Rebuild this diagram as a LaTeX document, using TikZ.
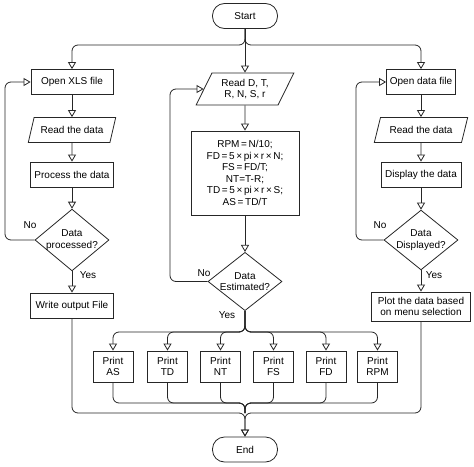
\documentclass[tikz,border=0pt]{standalone}
\usepackage{fontspec}
\setmainfont{Liberation Sans}
\usepackage{tikz}
\usetikzlibrary{arrows.meta,shapes.geometric}
\tikzset{fc/.style={line width=0.8pt, draw=black!85},
  arr/.style={-{Triangle[open,length=7pt,width=8pt]}},
  txt/.style={font=\fontsize{10}{11.6}\selectfont, align=center},
  procbox/.style={fc, txt, rectangle, minimum height=25pt, inner sep=2pt},
  iobox/.style={fc, txt, trapezium, trapezium left angle=62, trapezium right angle=118, trapezium stretches=true, minimum height=25pt, inner sep=1pt},
  decision/.style={fc, txt, diamond, aspect=1.15, minimum width=74pt, inner sep=-1pt},
  terminal/.style={fc, txt, rectangle, rounded corners=12pt, minimum width=65pt, minimum height=25pt},
  printbox/.style={procbox, minimum width=40pt, minimum height=31pt},
  lbl/.style={txt, inner sep=1pt}}
\newcommand{\printbox}[2]{node[printbox](#1) {Print\\#2}}

\begin{document}
\begin{tikzpicture}[x=1pt,y=-1pt]
\useasboundingbox (0,0) rectangle (474,466);
\draw (245,16) node[terminal] (start) {Start} ;
\coordinate (ts) at (245,45) ;
% left column
\draw (72,82) node[procbox, minimum width=82pt] (xls) {Open XLS file} ;
  \draw (72,130) node[iobox, minimum width=88pt] (rd1) {Read the data} ;
    \draw (72,174.5) node[procbox, minimum width=83pt] (proc) {Process the data} ;
      \draw (72,240) node[decision] (dp) {Data\\processed?} ;
        \draw (72,305.5) node[procbox, minimum width=83pt] (wout) {Write output File} ;
\draw (30,225) node[lbl] (no1) {No} ;
\draw (88,275) node[lbl] (yes1) {Yes} ;
\coordinate (lp1) at (5,82) ;
% center column
\draw (245,89) node[iobox, minimum width=98pt, minimum height=32pt] (rdin) {Read D, T,\\R, N, S, r} ;
  \draw (245,173) node[procbox, minimum width=108pt, minimum height=84pt] (calc)
    {RPM\,=\,N/10;\\FD\,=\,5\,×\,pi\,×\,r\,×\,N;\\FS\,=\,FD/T;\\NT=T-R;\\TD\,=\,5\,×\,pi\,×\,r\,×\,S;\\AS\,=\,TD/T} ;
    \draw (245,281.5) node[decision] (de) {Data\\Estimated?} ;
\draw (204,273) node[lbl] (no2) {No} ;
\draw (227,315) node[lbl] (yes2) {Yes} ;
\coordinate (lp2) at (170,89) ;
\coordinate (ps) at (245,332) ;
\draw (113,366.5) \printbox{pas}{AS} ;
  \draw (167.5,366.5) \printbox{ptd}{TD} ;
    \draw (220.5,366.5) \printbox{pnt}{NT} ;
      \draw (273.5,366.5) \printbox{pfs}{FS} ;
        \draw (326,366.5) \printbox{pfd}{FD} ;
          \draw (377.5,366.5) \printbox{prpm}{RPM} ;
\coordinate (mg1) at (245,403) ;
\coordinate (mg2) at (245,413) ;
\draw (245,449.5) node[terminal] (end) {End} ;
% right column
\draw (421,82) node[procbox, minimum width=69pt] (odf) {Open data file} ;
  \draw (421,130) node[iobox, minimum width=94pt] (rd3) {Read the data} ;
    \draw (421,174.5) node[procbox, minimum width=80pt] (disp) {Display the data} ;
      \draw (421,240) node[decision] (dd) {Data\\Displayed?} ;
        \draw (421,306.5) node[procbox, minimum width=99pt, minimum height=29pt] (plot) {Plot the data based\\on menu selection} ;
\draw (380,225) node[lbl] (no3) {No} ;
\draw (434,275) node[lbl] (yes3) {Yes} ;
\coordinate (lp3) at (356,82) ;
% connectors
\draw[fc, arr, rounded corners=6pt] (start.south) -- (ts) -| (xls.north) ;
\draw[fc, arr] (start) -- (rdin) ;
\draw[fc, arr, rounded corners=6pt] (start.south) -- (ts) -| (odf.north) ;
\draw[fc, arr] (xls) -- (rd1) ;
\draw[fc, arr] (rd1) -- (proc) ;
\draw[fc, arr] (proc) -- (dp) ;
\draw[fc, arr] (dp) -- (wout) ;
\draw[fc, arr, rounded corners=6pt] (dp.west) -| (lp1) -- (xls.west) ;
\draw[fc, arr] (rdin) -- (calc) ;
\draw[fc, arr] (calc) -- (de) ;
\draw[fc, arr, rounded corners=6pt] (de.west) -| (lp2) -- (rdin.west) ;
\foreach \p in {pas,ptd,pnt,pfs,pfd,prpm}
  \draw[fc, arr, rounded corners=6pt] (de.south) -- (ps) -| (\p.north) ;
\foreach \p in {pas,ptd,pnt,pfs,pfd,prpm}
  \draw[fc, rounded corners=6pt] (\p.south) |- (mg1) -- (mg2) ;
\draw[fc, arr] (odf) -- (rd3) ;
\draw[fc, arr] (rd3) -- (disp) ;
\draw[fc, arr] (disp) -- (dd) ;
\draw[fc, arr] (dd) -- (plot) ;
\draw[fc, arr, rounded corners=6pt] (dd.west) -| (lp3) -- (odf.west) ;
\draw[fc, arr, rounded corners=6pt] (wout.south) |- (mg2) -- (end.north) ;
\draw[fc, arr, rounded corners=6pt] (plot.south) |- (mg2) -- (end.north) ;
\end{tikzpicture}
\end{document}
